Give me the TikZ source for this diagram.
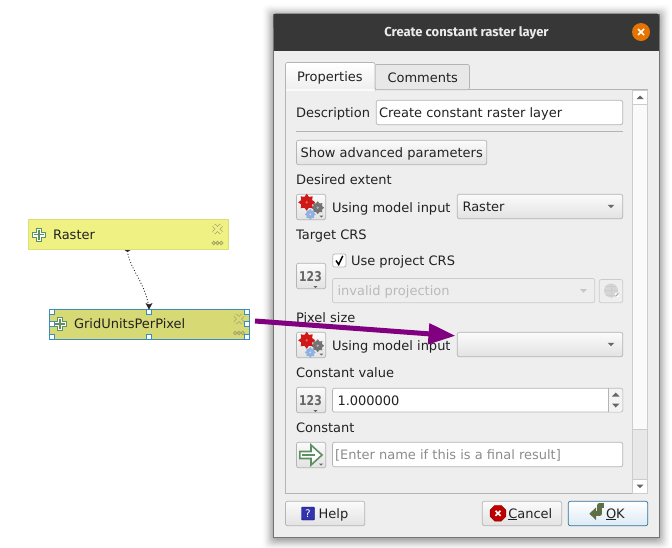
\documentclass[tikz,border=0pt]{standalone}
\usepackage{fontspec}
\setmainfont{DejaVu Sans}
\newfontfamily\titlefont{Fira Sans}
\newfontfamily\numfont[FakeStretch=0.8]{DejaVu Sans}
\usetikzlibrary{shapes.geometric,arrows.meta,calc}
\definecolor{dlgbg}{HTML}{EEEEEE}
\definecolor{wborder}{HTML}{B4B4B4}
\definecolor{titlebg}{HTML}{373737}
\definecolor{txt}{HTML}{222222}
\definecolor{modelyel}{HTML}{EFF283}
\definecolor{modelsel}{HTML}{D7D975}
\definecolor{hblue}{HTML}{3C8CC4}
\definecolor{iconol}{HTML}{A5A868}
\definecolor{icongreen}{HTML}{5B8F5F}
\definecolor{purp}{HTML}{800080}
\definecolor{btnbg}{HTML}{F3F3F3}
\definecolor{gearblue}{HTML}{8FB0E0}
\definecolor{gearred}{HTML}{D01818}
\definecolor{okolive}{HTML}{5F6F45}
\tikzset{
  widget/.style={draw=wborder,line width=0.7pt,rounded corners=2pt,inner sep=0,outer sep=0},
  button/.style={widget,top color=white!60!btnbg,bottom color=dlgbg!95!black},
  field/.style={widget,fill=white},
  disabledfield/.style={widget,draw=wborder!70,fill=dlgbg},
  lab/.style={anchor=base west,inner sep=0,outer sep=0,text=txt,font=\fontsize{13}{15}\selectfont},
  dim/.style={lab,text=black!27},
  hint/.style={lab,text=black!45},
  handle/.style={draw=hblue,fill=white,line width=0.9pt,minimum size=5pt,inner sep=0,outer sep=0},
  modelbox/.style={inner sep=0,outer sep=0,line width=0.8pt},
  droptip/.style={fill=black!60,draw=none},
}
% box by corners: [style]{name}{x1}{y1}{x2}{y2}
\newcommand{\bx}[6][]{%
  \pgfmathsetmacro{\bxw}{#5-#3}\pgfmathsetmacro{\bxh}{#6-#4}%
  \node[#1,minimum width=\bxw pt,minimum height=\bxh pt] (#2) at ({(#3+#5)/2},{(#4+#6)/2}) {};}
\newcommand{\tx}[5][lab]{\node[#1] (#2) at (#3,#4) {#5};}
\newcommand{\drop}[3]{\fill[droptip] (#1-#3,#2-#3*0.5) -- (#1+#3,#2-#3*0.5) -- (#1,#2+#3*0.5) -- cycle;}
\newcommand{\gearicon}[3]{% name, x, y of button top left
  \begin{scope}[shift={(#2,#3)}]
    \node[star,star points=8,star point ratio=1.4,fill=black!55,minimum size=13pt,inner sep=0] (#1g) at (21.4,13.7) {};
    \fill[black!30] (21.4,13.7) circle (1.3);
    \node[star,star points=8,star point ratio=1.45,fill=gearred,minimum size=17pt,inner sep=0] (#1r) at (10.4,8.3) {};
    \fill[gearred!60!white] (10.4,8.3) circle (1.2);
    \node[star,star points=8,star point ratio=1.4,fill=gearblue,minimum size=11pt,inner sep=0] (#1b) at (14,20.3) {};
    \fill[white!60!gearblue] (14,20.3) circle (1);
    \drop{25}{22.5}{2}
  \end{scope}}
\newcommand{\onetwothree}[3]{\node[anchor=base,inner sep=0,text=black!60,font=\numfont\bfseries\fontsize{13.5}{15}\selectfont] (#1) at (#2,#3) {123};\drop{#2+5}{#3+6}{2}}
\newcommand{\plusicon}[2]{%
  \begin{scope}[shift={(#1,#2)}]
   \draw[icongreen,fill=white,line width=0.8pt,line join=round] (-2.5,-6.5) -- (2.5,-6.5) -- (2.5,-2.5) -- (6.5,-2.5) -- (6.5,2.5) -- (2.5,2.5) -- (2.5,6.5) -- (-2.5,6.5) -- (-2.5,2.5) -- (-6.5,2.5) -- (-6.5,-2.5) -- (-2.5,-2.5) -- cycle;
   \draw[icongreen,line width=1.4pt] (0,-5) -- (0,5) (-5,0) -- (5,0);
  \end{scope}}
\newcommand{\modelicons}[3]{% x-center, y of X, fill colour
  \draw[iconol,line width=4.2pt] (#1-3.8,#2-3.8) -- (#1+3.8,#2+3.8) (#1-3.8,#2+3.8) -- (#1+3.8,#2-3.8);
  \draw[#3,line width=2.6pt] (#1-3.8,#2-3.8) -- (#1+3.8,#2+3.8) (#1-3.8,#2+3.8) -- (#1+3.8,#2-3.8);
  \foreach \k in {-3.8,0,3.8}{\draw[iconol,fill=#3!70!iconol,line width=0.8pt] (#1+\k,#2+14) circle (1.8);}}
\begin{document}
\begin{tikzpicture}[x=1pt,y=-1pt]
\useasboundingbox (0,0) rectangle (672,547);
\fill[white] (0,0) rectangle (672,547);
% model boxes
\bx[modelbox,draw=modelyel!92!black,fill=modelyel]{raster}{28.3}{219.5}{228.7}{249.5}
\bx[modelbox,draw=hblue,fill=modelsel]{grid}{49.5}{309.5}{249.5}{339}
\tx{rastertext}{53}{239}{Raster}
\tx{gridtext}{74}{328}{GridUnitsPerPixel}
\plusicon{39}{234.5}
\plusicon{60}{324}
\modelicons{217.5}{229}{modelyel}
\modelicons{239}{319}{modelsel}
\foreach \n/\hx/\hy in {a/52/312,b/149/312,c/246.7/312,d/52/323.7,e/246.7/323.7,f/52/336.7,g/149/336.7,h/246.7/336.7}{
  \node[handle] (h\n) at (\hx,\hy) {};}
% dotted connector
\coordinate (rasterout) at (127.5,251);
\draw[black!85,line width=0.9pt,dotted] (rasterout) .. controls (129,268) and (147,285) .. (hb.north);
\fill[black!85] (124.5,250) -- (130.5,250) -- (127.5,252) -- cycle;
\fill[black!85] (145.5,303) -- (149,304.5) -- (152.5,303) -- (149,309.5) -- cycle;
% dialog shadow
\foreach \k in {1,...,12}{
  \pgfmathsetmacro{\shop}{0.0045*(13-\k)}
  \fill[black,opacity=\shop,rounded corners=5pt] (273.5-\k,13.5-\k+2) rectangle (659+\k,537+\k+2);}
% dialog
\bx[draw=black!55,fill=dlgbg,line width=0.8pt,inner sep=0,outer sep=0]{dialog}{273.5}{14}{659}{537}
\fill[titlebg,rounded corners=2.5pt] (273.5,13.5) rectangle (659,30);
\fill[titlebg] (273.5,25) rectangle (659,50.5);
\node[anchor=base,inner sep=0,text=white!92!black,font=\titlefont\bfseries\fontsize{13}{15}\selectfont] (title) at (466.5,36.7) {Create constant raster layer};
\node[circle,fill=orange!90!black,minimum size=18pt,inner sep=0] (closebtn) at (641,32) {};
\draw[white,line width=1.6pt] (638,29) -- (644,35) (638,35) -- (644,29);
% panel and tabs
\bx[draw=wborder,fill=dlgbg,line width=0.7pt,inner sep=0,outer sep=0]{panel}{285.5}{89.7}{647.7}{493.7}
\bx[widget,fill=black!9]{tabcomments}{375}{64.5}{469.5}{89.7}
\path[draw=wborder,line width=0.7pt,top color=white,bottom color=dlgbg,rounded corners=2pt] (285.5,91) -- (285.5,62.5) -- (375,62.5) -- (375,91);
\fill[white!70!dlgbg] (286,89) rectangle (374.6,91);
\tx{tabprops}{297}{81}{Properties}
\tx{tabcomm}{387.5}{82}{Comments}
% scrollbar
\bx[draw=black!20,fill=black!9,line width=0.5pt,inner sep=0,outer sep=0]{scrolltrough}{632.7}{90}{647.4}{493.4}
\bx[draw=black!20,fill=black!2,line width=0.5pt,inner sep=0,outer sep=0]{scrollhandle}{632.7}{104.7}{647.4}{429.3}
\bx[draw=black!20,fill=white,line width=0.5pt,inner sep=0,outer sep=0]{scrollup}{632.7}{90}{647.4}{104.7}
\bx[draw=black!20,fill=white,line width=0.5pt,inner sep=0,outer sep=0]{scrolldown}{632.7}{479.3}{647.4}{493.4}
\fill[black!60] (636.5,99) -- (643.5,99) -- (640,95.5) -- cycle;
\fill[black!60] (636.5,484.5) -- (643.5,484.5) -- (640,488) -- cycle;
% description
\tx{ldesc}{296}{117}{Description}
\bx[field]{fdesc}{376.3}{100.3}{622.7}{124.7}
\tx{tdesc}{379}{117}{Create constant raster layer}
\coordinate (sepl) at (296,131.5); \coordinate (sepr) at (622.7,131.5);
\draw[wborder,line width=0.7pt] (sepl) -- (sepr);
\bx[button]{badv}{296.5}{140.3}{486.7}{164.7}
\tx{tadv}{300.5}{157}{Show advanced parameters}
% desired extent
\tx{lext}{296}{184}{Desired extent}
\bx[button]{bext}{296.5}{194.3}{325.7}{219.7}
\gearicon{gext}{296.3}{194}
\tx{uext}{332}{212}{Using model input}
\bx[button]{cext}{457.3}{194.3}{622.7}{218.7}
\tx{text}{462.5}{211}{Raster}
\drop{611}{206.5}{3.3}
% target crs
\tx{lcrs}{296}{239}{Target CRS}
\bx[button]{bcrs}{296.5}{263.3}{325.7}{288.7}
\onetwothree{ncrs}{310.5}{281}
\bx[widget,fill=white]{chk}{332.7}{254}{346}{267}
\draw[black,line width=1.5pt] (336,260.5) -- (338.7,264.5) -- (342.8,255.8);
\tx{tchk}{351}{265}{Use project CRS}
\bx[disabledfield]{ccrs}{332.5}{278.5}{594.7}{302.7}
\tx[dim]{tcrs}{337.5}{295}{invalid projection}
\fill[black!22] (580,289) -- (587,289) -- (583.5,292.5) -- cycle;
\bx[disabledfield]{bglobe}{599.3}{279.5}{622.7}{302.7}
\fill[black!16] (611,290.5) circle (7);
\draw[white!80!black,line width=0.4pt] (604,290.5) -- (618,290.5) (611,283.5) -- (611,297.5) (606,286) -- (616,286) (606,295) -- (616,295);
\fill[white] (614.5,292.5) -- (619,292.5) -- (619,297) -- (614.5,297) -- cycle;
\draw[black!35,line width=1pt] (615.5,296.3) -- (618.5,293.3);
% pixel size
\tx{lpix}{296}{322}{Pixel size}
\bx[button]{bpix}{296.5}{332.3}{325.7}{357.7}
\gearicon{gpix}{296.3}{332}
\tx{upix}{332}{350}{Using model input}
\bx[button]{cpix}{457.3}{332.3}{622.7}{356.7}
\drop{611}{344.5}{3.3}
% constant value
\tx{lval}{296}{377}{Constant value}
\bx[button]{bval}{296.5}{387.3}{325.7}{412.7}
\onetwothree{nval}{310.5}{405}
\bx[field]{fval}{332.5}{388.3}{622.7}{412}
\coordinate (spint) at (608.7,388.3); \coordinate (spinb) at (608.7,412);
\fill[btnbg,rounded corners=1.5pt] (609,388.8) rectangle (622.3,411.6);
\draw[wborder,line width=0.7pt] (spint) -- (spinb);
\fill[black!60] (612,396.5) -- (619.5,396.5) -- (615.7,392.5) -- cycle;
\fill[black!60] (612,403.5) -- (619.5,403.5) -- (615.7,407.5) -- cycle;
\tx{tval}{337.5}{405}{1.000000}
% constant
\tx{lconst}{296}{432}{Constant}
\bx[button]{bconst}{296.5}{442.3}{325.7}{467.7}
\draw[icongreen,fill=white,line width=1.6pt,line join=miter] (299.8,451.5) -- (311,451.5) -- (311,445) -- (322,455) -- (311,465) -- (311,458.5) -- (299.8,458.5) -- cycle;
\draw[icongreen,line width=1.2pt] (301.5,455) -- (315,455);
\drop{321}{464.5}{2}
\bx[field]{fconst}{332.5}{442.3}{622.7}{466.7}
\tx[hint]{tconst}{335}{459}{[Enter name if this is a final result]}
% bottom buttons
\bx[button]{bhelp}{285.5}{501.3}{364.7}{525.7}
\node[draw=blue!50!black,fill=blue!60!black!80!white,minimum width=13pt,minimum height=13pt,inner sep=0,rounded corners=1pt,text=white,font=\fontsize{10.5}{11}\selectfont] (ihelp) at (308,513.5) {?};
\tx{thelp}{318.7}{518}{Help}
\bx[button]{bcancel}{482.3}{501.3}{561.7}{525.7}
\node[regular polygon,regular polygon sides=8,draw=red!50!black,fill=red!75!black,minimum size=17pt,inner sep=0] (icancel) at (498,513.3) {};
\draw[white,line width=1.6pt] (495.5,510.8) -- (500.5,515.8) (495.5,515.8) -- (500.5,510.8);
\tx{tcancel}{508.3}{518}{\underline{C}ancel}
\bx[button,draw=hblue!80!black,top color=white,bottom color=hblue!18]{bok}{568.3}{501.3}{647.7}{525.7}
\draw[okolive,line width=5pt,line join=round] (593,513.7) -- (599.5,513.7) -- (599.5,505.5) -- (603.8,505.5);
\fill[okolive] (589.3,513.7) -- (596,507.5) -- (596,520) -- cycle;
\tx{tok}{606}{518}{\underline{O}K}
% purple arrow
\coordinate (arrowstart) at (255,321);
\coordinate (arrowend) at (455.5,335.8);
\draw[purp,line width=5pt,-{Triangle[length=27pt,width=20pt]}] (arrowstart) -- (arrowend);
\end{tikzpicture}
\end{document}
